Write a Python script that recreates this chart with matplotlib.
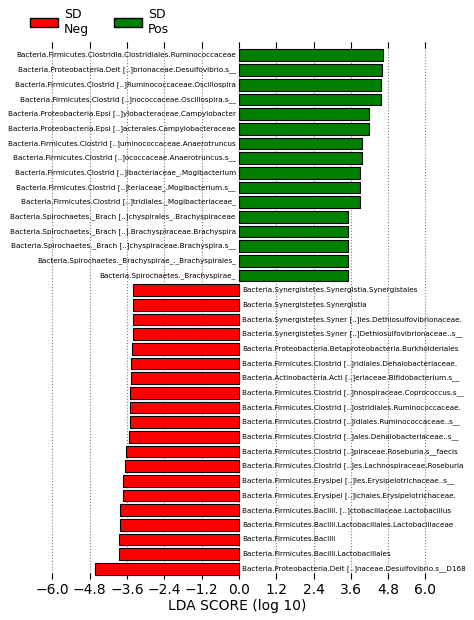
import matplotlib
matplotlib.use("Agg")
import numpy as np
from matplotlib import pyplot as plt
from matplotlib.patches import Patch

pos_names = [
    "Bacteria.Firmicutes.Clostridia.Clostridiales.Ruminococcaceae",
    "Bacteria.Proteobacteria.Delt [..]brionaceae.Desulfovibrio.s__",
    "Bacteria.Firmicutes.Clostrid [..]Ruminococcaceae.Oscillospira",
    "Bacteria.Firmicutes.Clostrid [..]nococcaceae.Oscillospira.s__",
    "Bacteria.Proteobacteria.Epsi [..]ylobacteraceae.Campylobacter",
    "Bacteria.Proteobacteria.Epsi [..]acterales.Campylobacteraceae",
    "Bacteria.Firmicutes.Clostrid [..]uminococcaceae.Anaerotruncus",
    "Bacteria.Firmicutes.Clostrid [..]ococcaceae.Anaerotruncus.s__",
    "Bacteria.Firmicutes.Clostrid [..]ibacteriaceae_.Mogibacterium",
    "Bacteria.Firmicutes.Clostrid [..]teriaceae_.Mogibacterium.s__",
    "Bacteria.Firmicutes.Clostrid [..]tridiales._Mogibacteriaceae_",
    "Bacteria.Spirochaetes._Brach [..]chyspirales_.Brachyspiraceae",
    "Bacteria.Spirochaetes._Brach [..].Brachyspiraceae.Brachyspira",
    "Bacteria.Spirochaetes._Brach [..]chyspiraceae.Brachyspira.s__",
    "Bacteria.Spirochaetes._Brachyspirae_._Brachyspirales_",
    "Bacteria.Spirochaetes._Brachyspirae_",
]
pos_vals = [4.63, 4.61, 4.58, 4.58, 4.18, 4.18, 3.97, 3.97, 3.91, 3.91, 3.91,
            3.51, 3.51, 3.51, 3.51, 3.51]

neg_names = [
    "Bacteria.Synergistetes.Synergistia.Synergistales",
    "Bacteria.Synergistetes.Synergistia",
    "Bacteria.Synergistetes.Syner [..]les.Dethiosulfovibrionaceae.",
    "Bacteria.Synergistetes.Syner [..]Dethiosulfovibrionaceae..s__",
    "Bacteria.Proteobacteria.Betaproteobacteria.Burkholderiales",
    "Bacteria.Firmicutes.Clostrid [..]ridiales.Dehalobacteriaceae.",
    "Bacteria.Actinobacteria.Acti [..]eriaceae.Bifidobacterium.s__",
    "Bacteria.Firmicutes.Clostrid [..]hnospiraceae.Coprococcus.s__",
    "Bacteria.Firmicutes.Clostrid [..]ostridiales.Ruminococcaceae.",
    "Bacteria.Firmicutes.Clostrid [..]idiales.Ruminococcaceae..s__",
    "Bacteria.Firmicutes.Clostrid [..]ales.Dehalobacteriaceae..s__",
    "Bacteria.Firmicutes.Clostrid [..]piraceae.Roseburia.s__faecis",
    "Bacteria.Firmicutes.Clostrid [..]es.Lachnospiraceae.Roseburia",
    "Bacteria.Firmicutes.Erysipel [..]les.Erysipelotrichaceae..s__",
    "Bacteria.Firmicutes.Erysipel [..]ichales.Erysipelotrichaceae.",
    "Bacteria.Firmicutes.Bacilli. [..]ctobacillaceae.Lactobacillus",
    "Bacteria.Firmicutes.Bacilli.Lactobacillales.Lactobacillaceae",
    "Bacteria.Firmicutes.Bacilli",
    "Bacteria.Firmicutes.Bacilli.Lactobacillales",
    "Bacteria.Proteobacteria.Delt [..]naceae.Desulfovibrio.s__D168",
]
neg_vals = [-3.41, -3.41, -3.41, -3.41, -3.45, -3.46, -3.47, -3.49, -3.51, -3.51,
            -3.54, -3.64, -3.67, -3.73, -3.73, -3.83, -3.83, -3.84, -3.86, -4.63]

xticks = [-6.0, -4.8, -3.6, -2.4, -1.2, 0.0, 1.2, 2.4, 3.6, 4.8, 6.0]

fig = plt.figure(figsize=(4.74, 6.2), dpi=100)
ax = fig.add_axes([0.0, 0.066, 1.0, 0.866])

names = pos_names + neg_names
vals = pos_vals + neg_vals
y = np.arange(len(vals))
colors = ["green" if v > 0 else "red" for v in vals]
ax.barh(y, vals, height=0.8, color=colors, edgecolor="black", linewidth=0.8, zorder=3)
for yi, v, n in zip(y, vals, names):
    if v > 0:
        ax.text(-0.1, yi, n, ha="right", va="center", fontsize=5.2)
    else:
        ax.text(0.1, yi, n, ha="left", va="center", fontsize=5.2)

ax.set_xlim(-7.68, 7.56)
ax.set_ylim(len(vals) - 1 + 0.7, -0.9)
ax.set_xticks(xticks)
ax.set_xticklabels(["%.1f" % t if t >= 0 else "\u2212%.1f" % -t for t in xticks], fontsize=10)
ax.set_yticks([])
ax.tick_params(axis="x", top=True, bottom=True, direction="in", length=4, pad=3)
ax.xaxis.grid(True, linestyle=":", color="gray", linewidth=0.8, zorder=0)
for s in ax.spines.values():
    s.set_visible(False)
ax.set_xlabel("LDA SCORE (log 10)", fontsize=10, labelpad=1)

handles = [Patch(facecolor="red", edgecolor="black"), Patch(facecolor="green", edgecolor="black")]
fig.legend(handles, ["SD\nNeg", "SD\nPos"], ncol=2, frameon=False, fontsize=9,
           loc="upper left", bbox_to_anchor=(0.04, 1.005), columnspacing=2.0,
           handlelength=2.2, handletextpad=0.5)

fig.savefig("out.png", dpi=100)
